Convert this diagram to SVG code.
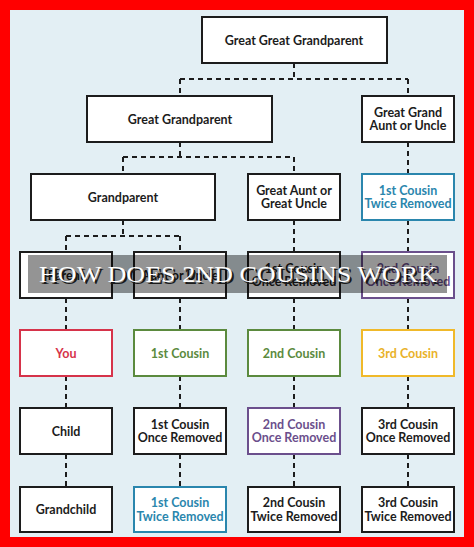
<svg xmlns="http://www.w3.org/2000/svg" width="474" height="547" viewBox="0 0 474 547">
<style>
.box{fill:#ffffff;stroke:#1c1c1c;stroke-width:2}
.t{font-family:Lato,"Open Sans","Liberation Sans",sans-serif;font-weight:bold;font-size:12.5px;fill:#1c1c1c;text-anchor:middle}
.con{fill:none;stroke:#1c1c1c;stroke-width:2;stroke-dasharray:5 4}
.red{stroke:#d6334a}.redt{fill:#d6334a}
.grn{stroke:#5b8a3e}.grnt{fill:#5b8a3e}
.gold{stroke:#f0b92a}.goldt{fill:#e9b22a}
.blu{stroke:#2a86ad}.blut{fill:#2a86ad}
.pur{stroke:#6b4f8c}.purt{fill:#6b4f8c}
.ban{font-family:"Liberation Serif","DejaVu Serif",serif;font-size:24px;text-anchor:middle}
</style>
<rect x="0" y="0" width="474" height="547" fill="#ff0000"/>
<rect x="10" y="10" width="454" height="527" fill="#e3eff4"/>
<g id="connectors">
<path class="con" d="M294 63V79M180 79H408M180 79V96M408 79V96"/>
<path class="con" d="M180 142V157M123 157H294M123 157V174M294 157V174"/>
<path class="con" d="M408 142V174"/>
<path class="con" d="M123 220V236M66 236H180M66 236V252M180 236V252"/>
<path class="con" d="M294 220V252M408 220V252"/>
<path class="con" d="M66 298V330M180 298V330M294 298V330M408 298V330"/>
<path class="con" d="M66 376V408M180 376V408M294 376V408M408 376V408"/>
<path class="con" d="M66 454V487M180 454V487M294 454V487M408 454V487"/>
</g>
<g id="ggp2"><rect class="box" x="202" y="17" width="185" height="46"/><text class="t" x="294" y="44.5">Great Great Grandparent</text></g>
<g id="ggp"><rect class="box" x="87" y="96" width="185" height="46"/><text class="t" x="180" y="123.5">Great Grandparent</text></g>
<g id="gga"><rect class="box" x="362" y="96" width="92" height="46"/><text class="t" x="408" y="116.5">Great Grand</text><text class="t" x="408" y="130">Aunt or Uncle</text></g>
<g id="gp"><rect class="box" x="31" y="174" width="184" height="46"/><text class="t" x="123" y="201.5">Grandparent</text></g>
<g id="ga"><rect class="box" x="248" y="174" width="92" height="46"/><text class="t" x="294" y="194.5">Great Aunt or</text><text class="t" x="294" y="208">Great Uncle</text></g>
<g id="c1r2a"><rect class="box blu" x="362" y="174" width="92" height="46"/><text class="t blut" x="408" y="194.5">1st Cousin</text><text class="t blut" x="408" y="208">Twice Removed</text></g>
<g id="parent"><rect class="box" x="20" y="252" width="92" height="46"/><text class="t" x="66" y="279.5">Parent</text></g>
<g id="aunt"><rect class="box" x="134" y="252" width="92" height="46"/><text class="t" x="180" y="279.5">Aunt or Uncle</text></g>
<g id="c1r1a"><rect class="box" x="248" y="252" width="92" height="46"/><text class="t" x="294" y="272.5">1st Cousin</text><text class="t" x="294" y="286">Once Removed</text></g>
<g id="c2r1a"><rect class="box pur" x="362" y="252" width="92" height="46"/><text class="t purt" x="408" y="272.5">2nd Cousin</text><text class="t purt" x="408" y="286">Once Removed</text></g>
<g id="you"><rect class="box red" x="20" y="330" width="92" height="46"/><text class="t redt" x="66" y="357.5">You</text></g>
<g id="c1"><rect class="box grn" x="134" y="330" width="92" height="46"/><text class="t grnt" x="180" y="357.5">1st Cousin</text></g>
<g id="c2"><rect class="box grn" x="248" y="330" width="92" height="46"/><text class="t grnt" x="294" y="357.5">2nd Cousin</text></g>
<g id="c3"><rect class="box gold" x="362" y="330" width="92" height="46"/><text class="t goldt" x="408" y="357.5">3rd Cousin</text></g>
<g id="child"><rect class="box" x="20" y="408" width="92" height="46"/><text class="t" x="66" y="435.5">Child</text></g>
<g id="c1r1b"><rect class="box" x="134" y="408" width="92" height="46"/><text class="t" x="180" y="428.5">1st Cousin</text><text class="t" x="180" y="442">Once Removed</text></g>
<g id="c2r1b"><rect class="box pur" x="248" y="408" width="92" height="46"/><text class="t purt" x="294" y="428.5">2nd Cousin</text><text class="t purt" x="294" y="442">Once Removed</text></g>
<g id="c3r1"><rect class="box" x="362" y="408" width="92" height="46"/><text class="t" x="408" y="428.5">3rd Cousin</text><text class="t" x="408" y="442">Once Removed</text></g>
<g id="grandchild"><rect class="box" x="20" y="487" width="92" height="45"/><text class="t" x="66" y="514">Grandchild</text></g>
<g id="c1r2b"><rect class="box blu" x="134" y="487" width="92" height="45"/><text class="t blut" x="180" y="507">1st Cousin</text><text class="t blut" x="180" y="520.5">Twice Removed</text></g>
<g id="c2r2"><rect class="box" x="248" y="487" width="92" height="45"/><text class="t" x="294" y="507">2nd Cousin</text><text class="t" x="294" y="520.5">Twice Removed</text></g>
<g id="c3r2"><rect class="box" x="362" y="487" width="92" height="45"/><text class="t" x="408" y="507">3rd Cousin</text><text class="t" x="408" y="520.5">Twice Removed</text></g>
<g id="banner">
<rect x="28" y="255" width="419" height="38" fill="#000000" fill-opacity="0.42"/>
<text class="ban" x="240" y="284" fill="#1a1a1a" textLength="398" lengthAdjust="spacingAndGlyphs">HOW DOES 2ND COUSINS WORK</text>
<text class="ban" x="238" y="282" fill="#ffffff" textLength="398" lengthAdjust="spacingAndGlyphs">HOW DOES 2ND COUSINS WORK</text>
</g>
</svg>
